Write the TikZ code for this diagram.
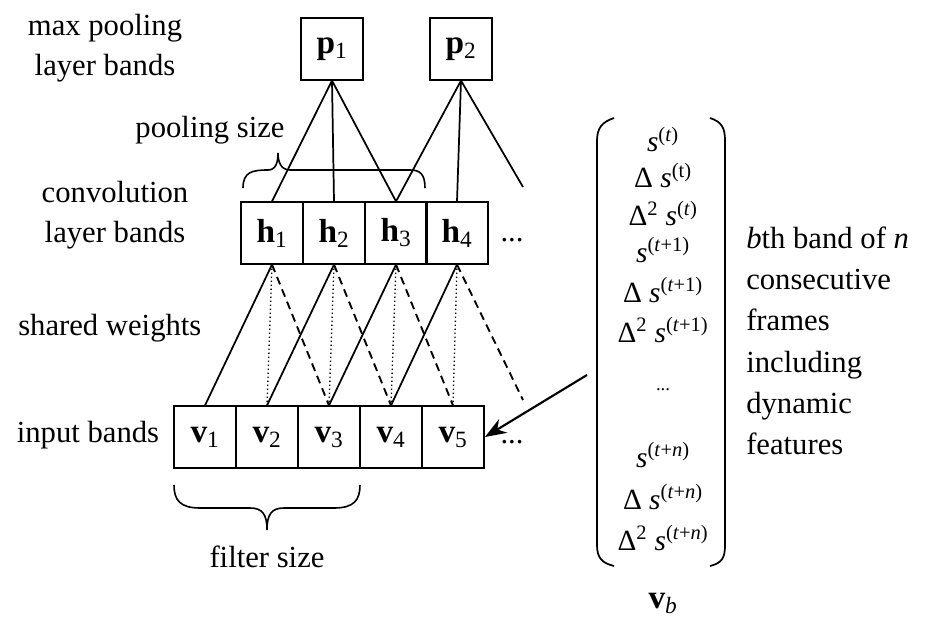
\documentclass[tikz,border=0pt]{standalone}
\usepackage{fontspec}
\setmainfont{Liberation Serif}
\usetikzlibrary{arrows.meta}
\begin{document}
\begin{tikzpicture}[x=0.75pt,y=-0.75pt,
  lbl/.style={font=\fontsize{23}{31}\selectfont,inner sep=0pt},
  ent/.style={font=\fontsize{22}{25}\selectfont,inner sep=0pt},
  box/.style={draw,line width=1.4pt,minimum width=46.5pt,minimum height=46pt,inner sep=0pt,font=\fontsize{25}{28}\selectfont},
  sol/.style={line width=1.3pt},
  dot/.style={line width=1pt,dotted},
  dsh/.style={line width=1.4pt,dash pattern=on 6pt off 4pt}]
\useasboundingbox (0,0) rectangle (938,642);
% pooling
\node[box] (p1) at (332,49) {\textbf{p}\textsubscript{1}};
\node[box] (p2) at (461,49) {\textbf{p}\textsubscript{2}};
% conv
\foreach \i/\x in {1/272,2/334,3/396,4/457}
  \node[box] (h\i) at (\x,233) {\textbf{h}\textsubscript{\i}};
% input
\foreach \i/\x in {1/205,2/267,3/329,4/391,5/453}
  \node[box] (v\i) at (\x,437) {\textbf{v}\textsubscript{\i}};
\coordinate (pend) at (523,187);
\coordinate (dend) at (523,400);
% pooling lines
\foreach \j in {1,2,3} \draw[sol] (p1.south) -- (h\j.north);
\draw[sol] (p2.south) -- (h3.north);
\draw[sol] (p2.south) -- (h4.north);
\draw[sol] (p2.south) -- (pend);
% shared weights
\foreach \i in {1,2,3,4} \draw[sol] (v\i.north) -- (h\i.south);
\foreach \i/\n in {1/2,2/3,3/4,4/5} \draw[dot] (h\i.south) -- (v\n.north);
\foreach \i/\n in {1/3,2/4,3/5} \draw[dsh] (h\i.south) -- (v\n.north);
\draw[dsh] (h4.south) -- (dend);
% pooling size brace
\draw[line width=1.2pt] (243,188) .. controls (243,172) and (252,170) .. (268,170) .. controls (276,170) and (278,162) .. (278,153)
  (278,153) .. controls (278,162) and (281,170) .. (290,170) -- (410,170) .. controls (420,170) and (425,174) .. (425,188);
% filter size brace
\draw[line width=1.2pt] (174,485) .. controls (174,500) and (180,508) .. (200,508) -- (250,508) .. controls (262,508) and (267,514) .. (267,530)
  (267,530) .. controls (267,514) and (272,508) .. (284,508) -- (334,508) .. controls (354,508) and (360,500) .. (360,485);
% labels
\node[lbl] (t1) at (105,28) {max pooling};
\node[lbl] (t2) at (105,68) {layer bands};
\node[lbl] (t3) at (210,130) {pooling size};
\node[lbl] (t4) at (115,192) {convolution};
\node[lbl] (t5) at (115,235) {layer bands};
\node[lbl,anchor=west] (t6) at (18,328) {shared weights};
\node[lbl] (t7) at (88,435) {input bands};
\node[lbl] (t8) at (267,557) {filter size};
\node[lbl] (d1) at (512,240) {...};
\node[lbl] (d2) at (512,442) {...};
% vector
\draw[line width=1.3pt] (614,118) .. controls (602,122) and (597,128) .. (597,141) -- (597,545) .. controls (597,558) and (602,563) .. (614,566);
\draw[line width=1.3pt] (710,118) .. controls (722,122) and (725,128) .. (725,141) -- (725,545) .. controls (725,558) and (722,563) .. (710,566);
\node[ent] (e1) at (663,140) {\textit{s}\textsuperscript{(\textit{t})}};
\node[ent] (e2) at (663,176) {Δ \textit{s}\textsuperscript{(t)}};
\node[ent] (e3) at (663,214) {Δ\textsuperscript{2} \textit{s}\textsuperscript{(\textit{t})}};
\node[ent] (e4) at (663,250) {\textit{s}\textsuperscript{(\textit{t}+1)}};
\node[ent] (e5) at (663,290) {Δ \textit{s}\textsuperscript{(\textit{t}+1)}};
\node[ent] (e6) at (663,330) {Δ\textsuperscript{2} \textit{s}\textsuperscript{(\textit{t}+1)}};
\node[ent,font=\fontsize{14}{16}\selectfont] (e7) at (663,390) {...};
\node[ent] (e8) at (663,455) {\textit{s}\textsuperscript{(\textit{t}+\textit{n})}};
\node[ent] (e9) at (663,497) {Δ \textit{s}\textsuperscript{(\textit{t}+\textit{n})}};
\node[ent] (e10) at (663,538) {Δ\textsuperscript{2} \textit{s}\textsuperscript{(\textit{t}+\textit{n})}};
\node[ent,font=\fontsize{25}{28}\selectfont] (vb) at (663,603) {\textbf{v}\textsubscript{\textit{b}}};
\node[lbl,anchor=west,align=left] (desc) at (746,341) {\textit{b}th band of \textit{n}\\consecutive\\frames\\including\\dynamic\\features};
\coordinate (astart) at (587,375);
\draw[line width=1.6pt,-{Stealth[length=16pt,width=12pt]}] (astart) -- (v5.east);
\end{tikzpicture}
\end{document}
